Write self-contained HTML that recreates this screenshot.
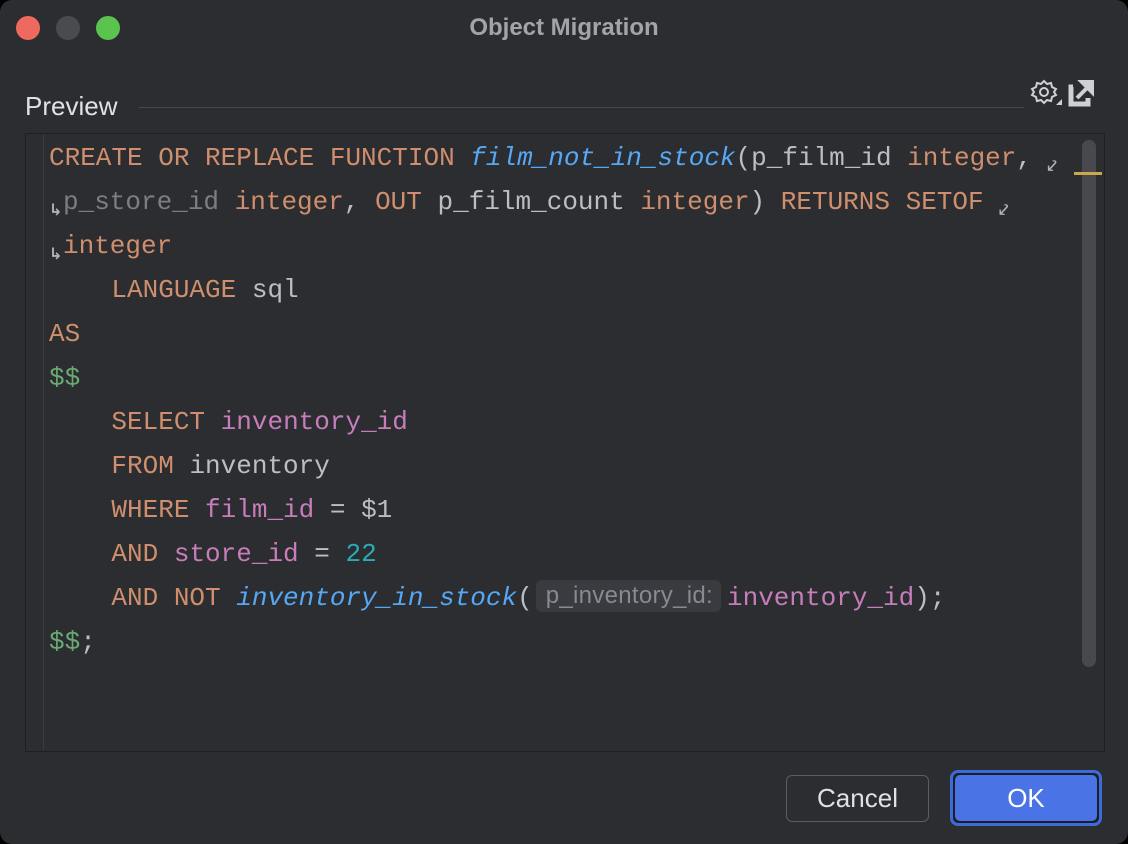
<!DOCTYPE html>
<html><head><style>
body{margin:0;width:1128px;height:844px;background:#000;overflow:hidden}
.win{position:absolute;left:0;top:0;width:1128px;height:844px;background:#2b2d30;border-radius:12px;overflow:hidden}
.dot{position:absolute;top:16px;width:24px;height:24px;border-radius:50%}
.title{position:absolute;top:14px;left:0;width:1128px;text-align:center;font:bold 24px "Liberation Sans",sans-serif;color:#a3a4a7}
.prev{position:absolute;left:25px;top:91px;font:26px "Liberation Sans",sans-serif;color:#dfe1e5}
.sep{position:absolute;left:139px;top:107px;width:885px;height:1px;background:#45474b}
.ed{position:absolute;left:25px;top:133px;width:1078px;height:617px;border:1px solid #1e1f22;background:#2b2d30}
.gut{position:absolute;left:43px;top:134px;width:1px;height:616px;background:#393b40}
.code{position:absolute;left:49px;top:136px;font:26px "Liberation Mono",monospace;color:#bcbec4}
.code div{height:44px;line-height:44px;white-space:pre}
.k{color:#cf8e6d}.f{color:#56a8f5;font-style:italic}.p{color:#c77dbb}.n{color:#2aacb8}.g{color:#6aab73}.m{color:#7a7e85}
.w{color:#b0b3b8;font:bold 16px "DejaVu Sans",sans-serif;display:inline-block;width:14px;line-height:10px;vertical-align:-6px}
.hint{display:inline-block;background:#393b40;color:#868a91;font:24px/32px "Liberation Sans",sans-serif;border-radius:6px;padding:0 8px 0 10px;margin:0 6px 0 3px;vertical-align:2px;letter-spacing:0.3px}
.sb{position:absolute;left:1082px;top:140px;width:14px;height:527px;border-radius:7px;background:#47494e}
.mk{position:absolute;left:1074px;top:172px;width:28px;height:3px;background:#c9a94a}
.btn{position:absolute;font:26px "Liberation Sans",sans-serif;text-align:center;box-sizing:border-box}
</style></head><body><div class="win">
<div class="dot" style="left:16px;background:#ee6a5f"></div>
<div class="dot" style="left:56px;background:#4a4b4e"></div>
<div class="dot" style="left:96px;background:#5ac44f"></div>
<div class="title">Object Migration</div>
<div class="prev">Preview</div>
<div class="sep"></div>
<svg style="position:absolute;left:1030px;top:78px" width="70" height="32" viewBox="0 0 70 32">
<circle cx="14" cy="14" r="4" fill="none" stroke="#ced0d6" stroke-width="2"/>
<path d="M14 3 l3 3 l4 -1 l1 4 l4 2 l-2 3 l2 3 l-4 2 l-1 4 l-4 -1 l-3 3 l-3 -3 l-4 1 l-1 -4 l-4 -2 l2 -3 l-2 -3 l4 -2 l1 -4 l4 1z" fill="none" stroke="#ced0d6" stroke-width="2"/>
<path d="M26 27 l6 -6 v6z" fill="#ced0d6"/>
<path d="M43 9 h-2 v17 h17 v-6" fill="none" stroke="#ced0d6" stroke-width="5"/>
<path d="M47 20 l12 -12 M52 4 h10 v10z" stroke="#ced0d6" stroke-width="4" fill="#ced0d6"/>
</svg>
<div class="ed"></div><div class="gut"></div>
<div class="code">
<div><span class="k">CREATE OR REPLACE FUNCTION </span><span class="f">film_not_in_stock</span>(p_film_id <span class="k">integer</span>, <span class="w">⤦</span></div>
<div><span class="w">↳</span><span class="m">p_store_id</span> <span class="k">integer</span>, <span class="k">OUT</span> p_film_count <span class="k">integer</span>) <span class="k">RETURNS SETOF</span> <span class="w">⤦</span></div>
<div><span class="w">↳</span><span class="k">integer</span></div>
<div>    <span class="k">LANGUAGE</span> sql</div>
<div><span class="k">AS</span></div>
<div><span class="g">$$</span></div>
<div>    <span class="k">SELECT</span> <span class="p">inventory_id</span></div>
<div>    <span class="k">FROM</span> inventory</div>
<div>    <span class="k">WHERE</span> <span class="p">film_id</span> = $1</div>
<div>    <span class="k">AND</span> <span class="p">store_id</span> = <span class="n">22</span></div>
<div>    <span class="k">AND NOT</span> <span class="f">inventory_in_stock</span>(<span class="hint">p_inventory_id:</span><span class="p">inventory_id</span>);</div>
<div><span class="g">$$</span>;</div>
</div>
<div class="sb"></div><div class="mk"></div>
<div class="btn" style="left:786px;top:775px;width:143px;height:47px;border:1px solid #5a5d63;border-radius:6px;color:#dfe1e5;line-height:45px">Cancel</div>
<div class="btn" style="left:950px;top:770px;width:152px;height:56px;border:3px solid #3d6bd9;border-radius:8px;background:#1e1f22;padding:2px"><div style="background:#4a74e6;border-radius:5px;height:46px;line-height:46px;color:#fff">OK</div></div>
</div></body></html>
